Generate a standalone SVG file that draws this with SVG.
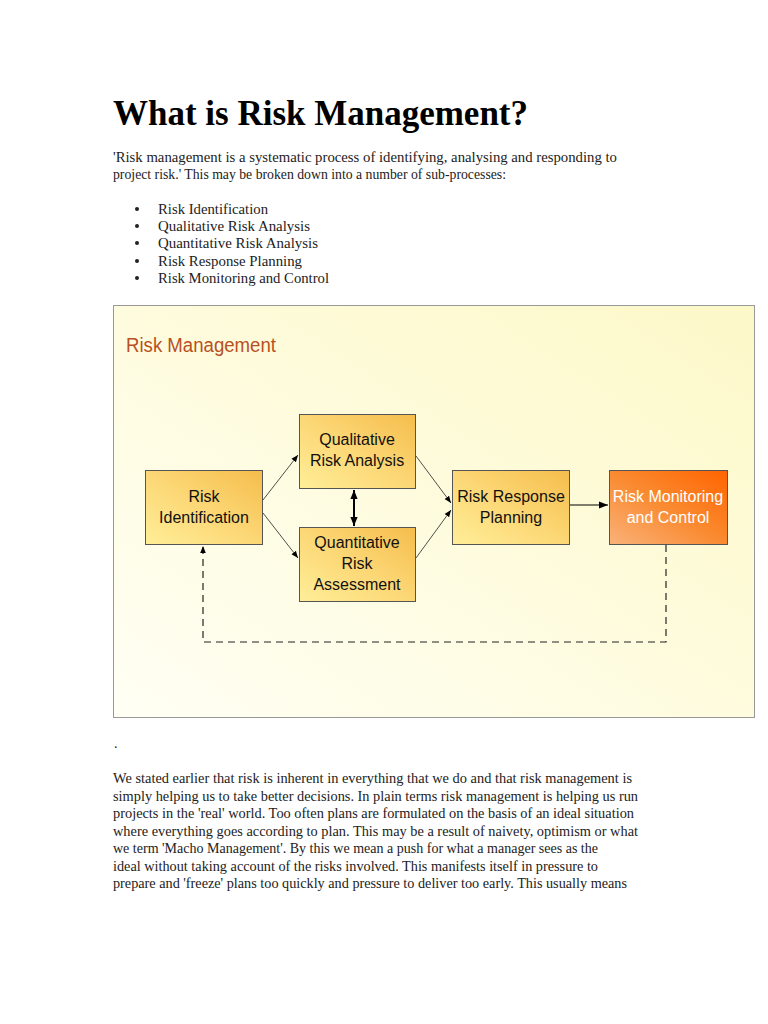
<svg xmlns="http://www.w3.org/2000/svg" width="768" height="1024" viewBox="0 0 768 1024">
<defs>
<linearGradient id="panel" x1="0" y1="1" x2="1" y2="0">
<stop offset="0" stop-color="#fffff4"/>
<stop offset="1" stop-color="#fdf8c8"/>
</linearGradient>
<linearGradient id="box" x1="0" y1="1" x2="1" y2="0">
<stop offset="0" stop-color="#ffee98"/>
<stop offset="0.5" stop-color="#fcd775"/>
<stop offset="1" stop-color="#f5bd4c"/>
</linearGradient>
<linearGradient id="hot" x1="0" y1="1" x2="1" y2="0">
<stop offset="0" stop-color="#f9b27a"/>
<stop offset="0.5" stop-color="#fa8a30"/>
<stop offset="1" stop-color="#ff6400"/>
</linearGradient>
<marker id="ah" viewBox="0 0 10 10" refX="10" refY="5" markerWidth="7" markerHeight="7" orient="auto-start-reverse" markerUnits="userSpaceOnUse">
<path d="M0,1 L10,5 L0,9 Z" fill="#000"/>
</marker>
<marker id="ahb" viewBox="0 0 10 10" refX="10" refY="5" markerWidth="9" markerHeight="9" orient="auto-start-reverse" markerUnits="userSpaceOnUse">
<path d="M0,1 L10,5 L0,9 Z" fill="#000"/>
</marker>
</defs>
<style>
.doc{font-family:"Liberation Serif","Times New Roman",serif;font-size:14px;fill:#222}
.h1{font-family:"Liberation Serif","Times New Roman",serif;font-size:36px;font-weight:bold;fill:#000}
.bx{stroke:#555;stroke-width:1}
.lbl{font-family:"Liberation Sans",Arial,sans-serif;font-size:16px;fill:#111;text-anchor:middle}
.lblw{font-family:"Liberation Sans",Arial,sans-serif;font-size:16px;fill:#fff;text-anchor:middle}
.ln{stroke:#222;stroke-width:0.8;fill:none}
</style>
<rect width="768" height="1024" fill="#fff"/>
<text class="h1" x="113" y="125" textLength="415" lengthAdjust="spacingAndGlyphs">What is Risk Management?</text>
<text class="doc" x="113" y="162" textLength="504" lengthAdjust="spacingAndGlyphs">'Risk management is a systematic process of identifying, analysing and responding to</text>
<text class="doc" x="113" y="179" textLength="393" lengthAdjust="spacingAndGlyphs">project risk.' This may be broken down into a number of sub-processes:</text>
<g class="doc">
<circle cx="137" cy="209" r="2" fill="#222"/><text x="158" y="214" textLength="110" lengthAdjust="spacingAndGlyphs">Risk Identification</text>
<circle cx="137" cy="226" r="2" fill="#222"/><text x="158" y="231" textLength="152" lengthAdjust="spacingAndGlyphs">Qualitative Risk Analysis</text>
<circle cx="137" cy="243" r="2" fill="#222"/><text x="158" y="248" textLength="160" lengthAdjust="spacingAndGlyphs">Quantitative Risk Analysis</text>
<circle cx="137" cy="261" r="2" fill="#222"/><text x="158" y="266" textLength="144" lengthAdjust="spacingAndGlyphs">Risk Response Planning</text>
<circle cx="137" cy="278" r="2" fill="#222"/><text x="158" y="283" textLength="171" lengthAdjust="spacingAndGlyphs">Risk Monitoring and Control</text>
</g>
<g id="panel-bg">
<rect x="113.5" y="305.5" width="641" height="412" fill="url(#panel)" stroke="#999" stroke-width="1"/>
<text x="126" y="352" font-family="'Liberation Sans',Arial,sans-serif" font-size="20" fill="#b9501e" textLength="150" lengthAdjust="spacingAndGlyphs">Risk Management</text>
</g>
<g id="connectors">
<line class="ln" x1="263" y1="500" x2="298" y2="455" marker-end="url(#ah)"/>
<line class="ln" x1="263" y1="513" x2="298" y2="558" marker-end="url(#ah)"/>
<line x1="354" y1="490" x2="354" y2="526" stroke="#000" stroke-width="2" marker-start="url(#ahb)" marker-end="url(#ahb)"/>
<line class="ln" x1="416" y1="456" x2="451" y2="503" marker-end="url(#ah)"/>
<line class="ln" x1="416" y1="558" x2="451" y2="510" marker-end="url(#ah)"/>
<line x1="570" y1="505" x2="608" y2="505" stroke="#000" stroke-width="1.2" marker-end="url(#ahb)"/>
<path d="M666,545 L666,642 L203,642 L203,546" fill="none" stroke="#222" stroke-width="1.2" stroke-dasharray="7,5" marker-end="url(#ah)"/>
</g>
<g id="risk-identification">
<rect class="bx" x="145.5" y="470.5" width="117" height="74" fill="url(#box)"/>
<text class="lbl" x="204" y="502">Risk</text>
<text class="lbl" x="204" y="523">Identification</text>
</g>
<g id="qualitative">
<rect class="bx" x="299.5" y="414.5" width="116" height="74" fill="url(#box)"/>
<text class="lbl" x="357" y="445">Qualitative</text>
<text class="lbl" x="357" y="466">Risk Analysis</text>
</g>
<g id="quantitative">
<rect class="bx" x="299.5" y="527.5" width="116" height="74" fill="url(#box)"/>
<text class="lbl" x="357" y="548">Quantitative</text>
<text class="lbl" x="357" y="569">Risk</text>
<text class="lbl" x="357" y="590">Assessment</text>
</g>
<g id="response-planning">
<rect class="bx" x="452.5" y="470.5" width="117" height="74" fill="url(#box)"/>
<text class="lbl" x="511" y="502">Risk Response</text>
<text class="lbl" x="511" y="523">Planning</text>
</g>
<g id="monitoring-control">
<rect class="bx" x="609.5" y="470.5" width="118" height="74" fill="url(#hot)"/>
<text class="lblw" x="668" y="502">Risk Monitoring</text>
<text class="lblw" x="668" y="523">and Control</text>
</g>
<text class="doc" x="114" y="748">.</text>
<g class="doc">
<text x="113" y="783" textLength="519" lengthAdjust="spacingAndGlyphs">We stated earlier that risk is inherent in everything that we do and that risk management is</text>
<text x="113" y="801" textLength="525" lengthAdjust="spacingAndGlyphs">simply helping us to take better decisions. In plain terms risk management is helping us run</text>
<text x="113" y="818" textLength="521" lengthAdjust="spacingAndGlyphs">projects in the 'real' world. Too often plans are formulated on the basis of an ideal situation</text>
<text x="113" y="836" textLength="525" lengthAdjust="spacingAndGlyphs">where everything goes according to plan. This may be a result of naivety, optimism or what</text>
<text x="113" y="853" textLength="485" lengthAdjust="spacingAndGlyphs">we term 'Macho Management'. By this we mean a push for what a manager sees as the</text>
<text x="113" y="871" textLength="485" lengthAdjust="spacingAndGlyphs">ideal without taking account of the risks involved. This manifests itself in pressure to</text>
<text x="113" y="888" textLength="514" lengthAdjust="spacingAndGlyphs">prepare and 'freeze' plans too quickly and pressure to deliver too early. This usually means</text>
</g>
</svg>
